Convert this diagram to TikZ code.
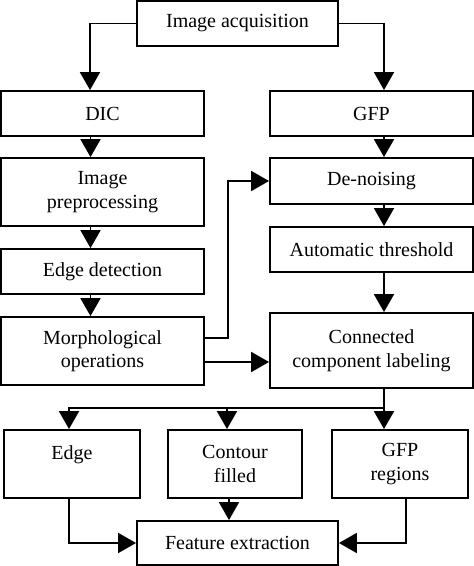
\documentclass[tikz,border=0pt]{standalone}
\usepackage{fontspec}
\setmainfont{Liberation Serif}
\newfontfamily\boxfont{Liberation Serif}
\usetikzlibrary{arrows.meta}
\begin{document}
\begin{tikzpicture}[x=1pt,y=1pt,
  box/.style={draw,line width=1.8pt,inner sep=0pt,align=center,
    font=\boxfont\fontsize{20}{23.5}\selectfont},
  arr/.style={line width=1.8pt,-{Triangle[width=20pt,length=18pt]}},
  ln/.style={line width=1.8pt}]
\useasboundingbox (0,0) rectangle (474,566);
\node[box,minimum width=201pt,minimum height=45pt] (top) at (237.5,542.5) {Image acquisition};
\node[box,minimum width=203pt,minimum height=45pt] (dic) at (102.5,452.5) {DIC};
\node[box,minimum width=203pt,minimum height=45pt] (gfp) at (371.5,452.5) {GFP};
\node[box,minimum width=203pt,minimum height=68pt] (pre) at (102.5,374) {Image\\preprocessing};
\node[box,minimum width=203pt,minimum height=45pt] (edet) at (102.5,294.5) {Edge detection};
\node[box,minimum width=203pt,minimum height=68pt] (morph) at (102.5,215) {Morphological\\operations};
\node[box,minimum width=203pt,minimum height=46pt] (den) at (371.5,385) {De-noising};
\node[box,minimum width=203pt,minimum height=45pt] (thr) at (371.5,316.5) {Automatic threshold};
\node[box,minimum width=203pt,minimum height=75pt] (conn) at (371.5,215.5) {Connected\\component labeling};
\node[box,minimum width=136pt,minimum height=68pt] (edge) at (72,102) {Edge\\\mbox{}};
\node[box,minimum width=134pt,minimum height=68pt] (cont) at (235,102) {Contour\\filled};
\node[box,minimum width=136pt,minimum height=68pt] (gfpr) at (400,102) {GFP\\regions};
\node[box,minimum width=201pt,minimum height=44pt] (feat) at (237.5,23) {Feature extraction};
\coordinate (split) at (384,158);
% top
\draw[arr] (top.west) -| ([xshift=-12.5pt]dic.north);
\draw[arr] (top.east) -| ([xshift=12.5pt]gfp.north);
% left column
\draw[arr] ([xshift=-12pt]dic.south) -- ([xshift=-12pt]pre.north);
\draw[arr] ([xshift=-12pt]pre.south) -- ([xshift=-12pt]edet.north);
\draw[arr] ([xshift=-12pt]edet.south) -- ([xshift=-12pt]morph.north);
% right column
\draw[arr] ([xshift=12.5pt]gfp.south) -- ([xshift=12.5pt]den.north);
\draw[arr] ([xshift=12.5pt]den.south) -- ([xshift=12.5pt]thr.north);
\draw[arr] ([xshift=12.5pt]thr.south) -- ([xshift=12.5pt]conn.north);
% cross
\draw[arr] ([yshift=13pt]morph.east) -- ++(23,0) |- (den.west);
\draw[arr] ([yshift=-11pt]morph.east) -- ([yshift=-11pt]morph.east -| conn.west);
% split
\draw[ln] (conn.south -| split) -- (split);
\draw[arr] (split) -- (split |- gfpr.north);
\draw[arr] (split) -| ([xshift=-8pt]cont.north);
\draw[arr] (split) -| ([xshift=-3pt]edge.north);
% to feature extraction
\draw[arr] ([xshift=-3pt]edge.south) |- (feat.west);
\draw[arr] ([xshift=-6pt]cont.south) -- ([xshift=-6pt]cont.south |- feat.north);
\draw[arr] ([xshift=6pt]gfpr.south) |- (feat.east);
\end{tikzpicture}
\end{document}
